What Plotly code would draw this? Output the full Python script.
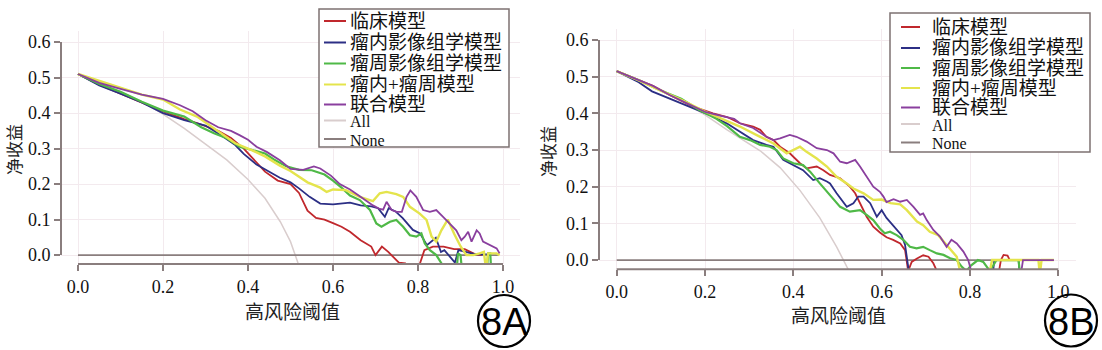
import plotly.graph_objects as go

W, H = 1102, 350

# ---------------- Panel 8A data (threshold, net benefit) ----------------
thrA_clin = [0, .05, .1, .15, .2, .25, .28, .33, .36, .39, .42, .44, .47, .5, .52, .54, .56, .58, .6, .62,
             .64, .665, .69, .70, .715, .73, .755, .77, .785, .80, .815, .835, .86, .885, .91, .935, .95]
nbA_clin = [.51, .48, .455, .43, .405, .383, .372, .35, .33, .30, .26, .235, .21, .20, .175, .125, .105, .10, .09, .08,
            .066, .042, .024, 0, .024, .009, -.021, -.023, -.05, -.04, .014, .024, .024, .017, .017, .002, 0]

thrA_intra = [0, .05, .1, .15, .2, .25, .3, .34, .37, .39, .42, .45, .475, .5, .52, .545, .57, .6, .62, .64,
              .665, .69, .706, .722, .731, .747, .764, .788, .805, .821, .842, .854, .862, .878, .887, .895, .911, .936, .97]
nbA_intra = [.51, .478, .455, .43, .40, .38, .365, .335, .31, .285, .255, .235, .218, .205, .188, .164, .145, .143, .146, .148,
             .14, .137, .132, .108, .132, .123, .104, .071, .061, .028, .049, .009, .014, -.009, -.021, .014, .009, .002, .002]

thrA_peri = [0, .05, .1, .15, .2, .25, .29, .32, .35, .38, .41, .44, .46, .49, .52, .55, .58, .6, .62, .64,
             .663, .687, .702, .714, .734, .749, .765, .781, .796, .808, .816, .828, .843, .855, .867, .89, .894, .9, .905, .961,
             .965, .97, .973]
nbA_peri = [.51, .482, .46, .432, .407, .39, .36, .343, .329, .305, .296, .286, .27, .25, .24, .239, .227, .21, .19, .168,
            .155, .127, .089, .08, .094, .099, .08, .056, .052, .061, .033, .014, 0, -.023, -.06, -.06, .005, 0, -.06, -.06,
            .005, .005, -.06]

thrA_both = [0, .05, .1, .15, .2, .24, .28, .31, .34, .37, .41, .44, .475, .5, .54, .57, .585, .6, .63, .663,
             .694, .71, .726, .749, .765, .781, .804, .82, .832, .843, .855, .87, .885, .9, .914, .93, .945, .955, .96, .965,
             .975, .985, .992]
nbA_both = [.51, .49, .47, .452, .438, .41, .39, .365, .338, .315, .295, .278, .252, .237, .205, .19, .178, .185, .183, .164,
            .152, .174, .178, .172, .164, .136, .117, .099, .052, .038, .07, .10, .06, .025, 0, 0, .005, .009, -.04, .005,
            .005, .005, 0]

thrA_comb = [0, .05, .1, .15, .2, .24, .27, .3, .33, .36, .38, .4, .42, .445, .475, .5, .53, .555, .57, .595,
             .616, .64, .663, .68, .694, .71, .718, .726, .738, .75, .762, .773, .782, .796, .812, .828, .843, .859, .875, .89,
             .902, .91, .918, .926, .938, .945, .953, .969, .985, .992]
nbA_comb = [.51, .485, .468, .452, .44, .422, .405, .38, .36, .35, .338, .325, .305, .29, .267, .243, .24, .25, .244, .224,
            .2, .185, .166, .152, .14, .13, .128, .15, .127, .122, .122, .164, .182, .164, .127, .122, .127, .108, .089, .07,
            .042, .052, .066, .038, .07, .061, .038, .028, .019, .005]

thrA_all = [0, .05, .1, .15, .2, .25, .3, .35, .4, .44, .476, .5, .517, .535]
nbA_all = [.51, .486, .46, .432, .397, .357, .312, .268, .213, .16, .094, .038, -.02, -.07]

thr_none = [0, .99]
nb_none = [0, 0]

# ---------------- Panel 8B data ----------------
thrB_clin = [0, .05, .082, .122, .17, .218, .25, .279, .309, .325, .339, .355, .37, .392, .415, .43, .453, .468, .483, .506,
             .528, .54, .551, .566, .581, .596, .611, .626, .642, .653, .66, .668, .68, .694, .706, .717, .725, .74, .86, .87,
             .876, .885, .89, .92]
nbB_clin = [.515, .49, .475, .449, .42, .40, .39, .373, .364, .355, .336, .327, .309, .291, .264, .25, .255, .245, .232, .223,
            .2, .182, .155, .118, .091, .075, .062, .055, .045, .027, -.03, -.005, .004, .013, .009, -.009, -.03, -.07, -.07, 0,
            .014, .012, 0, 0]

thrB_intra = [0, .05, .08, .122, .17, .21, .25, .28, .309, .339, .355, .377, .4, .422, .445, .46, .476, .483, .498, .521,
              .536, .547, .559, .574, .589, .6, .611, .626, .638, .645, .653, .657, .665, .85, .855, .91, .914]
nbB_intra = [.515, .485, .46, .44, .417, .396, .372, .35, .327, .314, .309, .273, .259, .245, .218, .223, .214, .209, .182, .145,
             .155, .173, .173, .155, .118, .136, .115, .095, .077, .068, .041, 0, -.06, -.06, 0, 0, -.06]

thrB_peri = [0, .05, .1, .146, .186, .226, .25, .279, .302, .325, .347, .362, .377, .4, .422, .438, .46, .483, .506, .528,
             .551, .566, .581, .596, .607, .619, .634, .649, .664, .679, .694, .709, .725, .74, .755, .77, .781, .792, .802, .818,
             .83, .845, .86, .91, .915]
nbB_peri = [.515, .49, .462, .44, .41, .385, .365, .336, .327, .314, .309, .30, .277, .264, .259, .241, .209, .177, .145, .132,
            .136, .123, .109, .086, .073, .077, .068, .055, .036, .032, .036, .027, .018, .014, .005, 0, -.018, -.03, -.015, 0,
            -.005, -.03, 0, 0, -.06]

thrB_both = [0, .05, .1, .15, .2, .25, .279, .325, .355, .385, .4, .415, .43, .453, .476, .498, .521, .536, .559, .581,
             .6, .62, .642, .657, .68, .694, .709, .728, .747, .77, .777, .79, .84, .85, .955, .958, .962, .99]
nbB_both = [.515, .49, .462, .435, .405, .38, .364, .336, .318, .291, .30, .309, .295, .277, .255, .227, .209, .195, .182, .164,
            .165, .155, .152, .136, .105, .095, .077, .068, .041, .009, -.027, -.06, -.06, 0, 0, -.04, 0, 0]

thrB_comb = [0, .05, .082, .12, .17, .202, .234, .266, .279, .309, .339, .355, .37, .392, .407, .43, .453, .476, .491, .506,
             .521, .54, .551, .566, .581, .596, .604, .611, .627, .642, .657, .672, .687, .694, .702, .717, .732, .747, .758, .77,
             .785, .796, .805, .915, .92, .99]
nbB_comb = [.515, .49, .475, .45, .421, .403, .394, .385, .373, .36, .336, .327, .332, .341, .336, .323, .305, .30, .291, .268,
            .264, .273, .255, .227, .20, .186, .173, .158, .166, .159, .164, .145, .123, .127, .109, .082, .064, .036, .055, .045,
            .023, 0, -.04, -.04, 0, 0]

thrB_all = [0, .05, .1, .15, .2, .25, .279, .325, .37, .415, .46, .498, .521, .54]
nbB_all = [.515, .49, .463, .432, .396, .355, .333, .298, .252, .19, .115, .036, -.018, -.06]

# ---------------- labels ----------------
legend_labels = ["临床模型", "瘤内影像组学模型", "瘤周影像组学模型", "瘤内+瘤周模型", "联合模型", "All", "None"]
x_ticks = [0, 0.2, 0.4, 0.6, 0.8, 1.0]
x_tick_text = ["0.0", "0.2", "0.4", "0.6", "0.8", "1.0"]
y_ticks = [0, 0.1, 0.2, 0.3, 0.4, 0.5, 0.6]
y_tick_text = ["0.0", "0.1", "0.2", "0.3", "0.4", "0.5", "0.6"]
x_title = "高风险阈值"
y_title = "净收益"
panel_tags = ["8A", "8B"]

# ---------------- styles ----------------
colors = ["#c0282d", "#2c2f85", "#4fb947", "#e4e44c", "#8a3f9e", "#d9cdcd", "#8a7e7e"]
widths = [1.8, 1.8, 2.2, 2.4, 1.8, 1.5, 1.8]
AXC = "#8a7e7e"
GRIDC = "#f3eaee"
SERIF = "Liberation Serif, Noto Sans CJK SC, serif"
CJK = "Noto Sans CJK SC, sans-serif"

panels = [
    dict(xa="x", ya="y",
         series=[(thrA_all, nbA_all, 5), (thr_none, nb_none, 6), (thrA_clin, nbA_clin, 0), (thrA_intra, nbA_intra, 1),
                 (thrA_peri, nbA_peri, 2), (thrA_both, nbA_both, 3), (thrA_comb, nbA_comb, 4)]),
    dict(xa="x2", ya="y2",
         series=[(thrB_all, nbB_all, 5), (thr_none, nb_none, 6), (thrB_clin, nbB_clin, 0), (thrB_intra, nbB_intra, 1),
                 (thrB_peri, nbB_peri, 2), (thrB_both, nbB_both, 3), (thrB_comb, nbB_comb, 4)]),
]

fig = go.Figure()
for p in panels:
    for xs, ys, k in p["series"]:
        fig.add_trace(go.Scatter(x=xs, y=ys, mode="lines", xaxis=p["xa"], yaxis=p["ya"],
                                 line=dict(color=colors[k], width=widths[k]),
                                 name=legend_labels[k], showlegend=False, hoverinfo="skip"))


def xaxis_cfg(domain):
    return dict(domain=domain, range=[-0.04, 1.04], tickvals=x_ticks, ticktext=x_tick_text,
                ticks="outside", ticklen=6, tickwidth=1.5, tickcolor=AXC, showline=False,
                showgrid=True, gridcolor=GRIDC, gridwidth=1, zeroline=False,
                tickfont=dict(family=SERIF, size=18, color="#111"), fixedrange=True)


def yaxis_cfg(domain, anchor):
    return dict(domain=domain, range=[-0.025, 0.63], tickvals=y_ticks, ticktext=y_tick_text, anchor=anchor,
                ticks="outside", ticklen=6, tickwidth=1.5, tickcolor=AXC, showline=False,
                showgrid=True, gridcolor=GRIDC, gridwidth=1, zeroline=False,
                tickfont=dict(family=SERIF, size=18, color="#111"), fixedrange=True)


def fx(px):
    return px / W


def fy(py):
    return 1 - py / H


layout = dict(
    width=W, height=H, autosize=False,
    margin=dict(l=0, r=0, t=0, b=0),
    paper_bgcolor="white", plot_bgcolor="white",
    showlegend=False,
    xaxis=xaxis_cfg([fx(61), fx(520)]),
    yaxis=yaxis_cfg([fy(264), fy(31.4)], "x"),
    xaxis2=xaxis_cfg([fx(599), fx(1076)]),
    yaxis2=yaxis_cfg([fy(269.2), fy(29.0)], "x2"),
)
layout["xaxis"]["anchor"] = "y"
layout["xaxis2"]["anchor"] = "y2"
fig.update_layout(**layout)

shapes = []
annotations = []

# R-style axis lines (only over the tick span)
for xa, ya in [("x", "y"), ("x2", "y2")]:
    shapes.append(dict(type="line", xref=xa, yref=ya + " domain", x0=0, x1=1, y0=0, y1=0,
                       line=dict(color=AXC, width=2)))
    shapes.append(dict(type="line", xref=xa + " domain", yref=ya, x0=0, x1=0, y0=0, y1=0.6,
                       line=dict(color=AXC, width=2)))

# manual legends
legend_specs = [
    dict(box=(319, 9, 509, 147), sw=(324, 346), tx=349, ys=[21, 42.5, 63.5, 84.5, 104.5, 120.5, 139]),
    dict(box=(890, 13, 1090, 152), sw=(901, 920), tx=931, ys=[27, 48, 68, 88, 107.5, 124, 142.5]),
]
for spec in legend_specs:
    x0, y0, x1, y1 = spec["box"]
    shapes.append(dict(type="rect", xref="paper", yref="paper", x0=fx(x0), x1=fx(x1), y0=fy(y1), y1=fy(y0),
                       line=dict(color="#7d7272", width=1.5), fillcolor="white", layer="above"))
    for k, (lab, yy) in enumerate(zip(legend_labels, spec["ys"])):
        shapes.append(dict(type="line", xref="paper", yref="paper", x0=fx(spec["sw"][0]), x1=fx(spec["sw"][1]),
                           y0=fy(yy), y1=fy(yy), line=dict(color=colors[k], width=2), layer="above"))
        latin = lab in ("All", "None")
        annotations.append(dict(text=lab, xref="paper", yref="paper", x=fx(spec["tx"]), y=fy(yy + (1 if latin else 0)),
                                xanchor="left", yanchor="middle", showarrow=False, borderpad=0,
                                font=dict(family=SERIF, size=16 if latin else 19, color="#111")))

# axis titles
for (tx, ty) in [(292, 310), (838, 314)]:
    annotations.append(dict(text=x_title, xref="paper", yref="paper", x=fx(tx), y=fy(ty), xanchor="center",
                            yanchor="middle", showarrow=False, font=dict(family=CJK, size=19, color="#222")))
for (tx, ty) in [(13, 150), (547, 152)]:
    annotations.append(dict(text=y_title, xref="paper", yref="paper", x=fx(tx), y=fy(ty), xanchor="center",
                            yanchor="middle", textangle=-90, showarrow=False, borderpad=0,
                            font=dict(family=CJK, size=17, color="#222")))

# circled panel tags
for tag, (cx, cy) in zip(panel_tags, [(504, 321), (1071, 320.5)]):
    r = 26
    shapes.append(dict(type="circle", xref="paper", yref="paper", x0=fx(cx - r), x1=fx(cx + r),
                       y0=fy(cy + r), y1=fy(cy - r), line=dict(color="black", width=2.2)))
    annotations.append(dict(text=tag, xref="paper", yref="paper", x=fx(cx), y=fy(cy + 1), xanchor="center",
                            yanchor="middle", showarrow=False,
                            font=dict(family="Liberation Sans Narrow, Liberation Sans, Arial, sans-serif",
                                      size=38, color="black")))

fig.update_layout(shapes=shapes, annotations=annotations)
fig.write_html("out.html")
